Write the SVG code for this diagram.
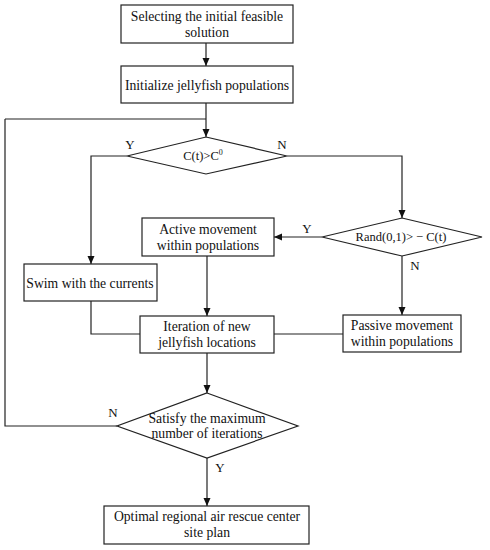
<svg xmlns="http://www.w3.org/2000/svg" width="490" height="550" viewBox="0 0 490 550">
<style>
.b{fill:#fff;stroke:#222;stroke-width:1.2}
.l{fill:none;stroke:#222;stroke-width:1.2}
text{font-family:"Liberation Serif","Times New Roman",serif;font-size:13.7px;fill:#111;text-anchor:middle}
.s{font-size:12.5px}
.lab{font-size:13px}
</style>
<defs>
<marker id="a" markerWidth="8" markerHeight="8" refX="8" refY="4" orient="auto" markerUnits="userSpaceOnUse">
<path d="M0,0.5 L8,4 L0,7.5 Z" fill="#111"/>
</marker>
</defs>
<rect width="490" height="550" fill="#fff"/>
<g id="connectors">
<path class="l" d="M206,43 V66" marker-end="url(#a)"/>
<path class="l" d="M206,103 V137" marker-end="url(#a)"/>
<path class="l" d="M5,119 H206"/>
<path class="l" d="M127,156 H91 V264" marker-end="url(#a)"/>
<path class="l" d="M287,156 H402 V218" marker-end="url(#a)"/>
<path class="l" d="M322,237 H274" marker-end="url(#a)"/>
<path class="l" d="M402,256 V315" marker-end="url(#a)"/>
<path class="l" d="M207,256 V316" marker-end="url(#a)"/>
<path class="l" d="M91,301 V334 H140"/>
<path class="l" d="M343,334 H274"/>
<path class="l" d="M207,353 V393" marker-end="url(#a)"/>
<path class="l" d="M117,426 H5 V119"/>
<path class="l" d="M207,458 V506" marker-end="url(#a)"/>
<text class="lab" x="130" y="149">Y</text>
<text class="lab" x="282" y="149">N</text>
<text class="lab" x="307" y="233">Y</text>
<text class="lab" x="415" y="270">N</text>
<text class="lab" x="113" y="417">N</text>
<text class="lab" x="220" y="472">Y</text>
</g>
<g id="n1"><rect class="b" x="121" y="5" width="172" height="38"/>
<text x="207" y="21">Selecting the initial feasible</text><text x="207" y="37">solution</text></g>
<g id="n2"><rect class="b" x="121" y="66" width="172" height="37"/>
<text x="207" y="90">Initialize jellyfish populations</text></g>
<g id="d1"><path class="b" d="M206,137 L287,156 L206,174 L127,156 Z"/>
<text class="s" x="203" y="160">C(t)&gt;C<tspan font-size="8" dy="-5">0</tspan></text></g>
<g id="n3"><rect class="b" x="142" y="218" width="132" height="38"/>
<text x="208" y="234">Active movement</text><text x="208" y="250">within populations</text></g>
<g id="d2"><path class="b" d="M402,218 L482,237 L402,256 L322,237 Z"/>
<text class="s" x="401" y="241">Rand(0,1)&gt; − C(t)</text></g>
<g id="n4"><rect class="b" x="24" y="264" width="133" height="37"/>
<text x="90" y="288">Swim with the currents</text></g>
<g id="n5"><rect class="b" x="140" y="316" width="134" height="37"/>
<text x="207" y="331">Iteration of new</text><text x="207" y="347">jellyfish locations</text></g>
<g id="n6"><rect class="b" x="343" y="315" width="118" height="37"/>
<text x="402" y="330">Passive movement</text><text x="402" y="346">within populations</text></g>
<g id="d3"><path class="b" d="M207,393 L298,426 L207,458 L117,426 Z"/>
<text x="207" y="423">Satisfy the maximum</text><text x="207" y="438">number of iterations</text></g>
<g id="n7"><rect class="b" x="104" y="506" width="205" height="38"/>
<text x="207" y="521">Optimal regional air rescue center</text><text x="207" y="537">site plan</text></g>
</svg>
